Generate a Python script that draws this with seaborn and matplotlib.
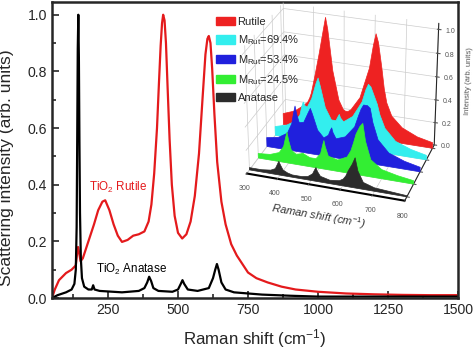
import numpy as np
import pandas as pd
import matplotlib
matplotlib.use("Agg")
import matplotlib.pyplot as plt
import seaborn as sns
from matplotlib import font_manager
from matplotlib.collections import PolyCollection
from matplotlib.patches import Patch
from matplotlib.ticker import MultipleLocator

# ---------------- main spectra ----------------
rutile_x = [50, 60, 75, 100, 120, 135, 140, 143, 147, 152, 160, 180, 200, 215, 230, 240,
            255, 270, 285, 300, 320, 340, 360, 380, 395, 405, 415, 425, 432, 438, 443, 447,
            452, 457, 463, 470, 478, 488, 500, 515, 530, 545, 560, 575, 588, 598, 605, 610,
            616, 622, 630, 640, 655, 670, 690, 710, 730, 750, 780, 820, 870, 920, 1000,
            1100, 1200, 1300, 1400, 1500]
rutile_y = [0.0, 0.03, 0.063, 0.088, 0.10, 0.115, 0.16, 0.18, 0.16, 0.13, 0.14, 0.20, 0.26, 0.31, 0.34, 0.345,
            0.31, 0.26, 0.22, 0.198, 0.205, 0.22, 0.225, 0.235, 0.27, 0.33, 0.44, 0.60, 0.76, 0.89, 0.97, 1.0,
            0.98, 0.90, 0.74, 0.56, 0.40, 0.29, 0.23, 0.21, 0.225, 0.27, 0.36, 0.51, 0.71, 0.86, 0.915, 0.925,
            0.90, 0.81, 0.65, 0.48, 0.34, 0.26, 0.19, 0.15, 0.12, 0.09, 0.07, 0.055, 0.04, 0.03, 0.022,
            0.016, 0.013, 0.011, 0.01, 0.01]

anatase_x = [50, 70, 100, 120, 130, 135, 138, 140, 142, 144, 146, 148, 150, 153, 157, 165, 180,
             192, 197, 202, 220, 300, 360, 380, 390, 397, 404, 412, 430, 480, 500, 510, 516, 522,
             535, 570, 610, 625, 633, 639, 645, 655, 670, 700, 800, 900, 1000, 1500]
anatase_y = [0.0, 0.01, 0.02, 0.03, 0.05, 0.10, 0.25, 0.55, 0.88, 1.0, 0.85, 0.55, 0.30, 0.14, 0.07, 0.04, 0.03,
             0.03, 0.045, 0.03, 0.025, 0.02, 0.025, 0.035, 0.055, 0.075, 0.06, 0.035, 0.025, 0.022, 0.03, 0.05, 0.063, 0.05,
             0.03, 0.025, 0.035, 0.07, 0.10, 0.12, 0.10, 0.055, 0.03, 0.02, 0.012, 0.008, 0.005, 0.005]

x_ticks = [250, 500, 750, 1000, 1250, 1500]
y_ticks = [0.0, 0.2, 0.4, 0.6, 0.8, 1.0]

# ---------------- inset waterfall spectra ----------------
inset_x = [300, 340, 370, 385, 392, 397, 402, 410, 425, 440, 447, 454, 470, 490, 505, 512,
           516, 520, 530, 560, 590, 602, 610, 618, 630, 639, 648, 665, 700, 750, 800]
inset_anatase = [0.02, 0.02, 0.03, 0.05, 0.09, 0.12, 0.09, 0.05, 0.03, 0.02, 0.02, 0.02, 0.02, 0.03, 0.06, 0.10,
                 0.12, 0.09, 0.05, 0.03, 0.04, 0.06, 0.09, 0.14, 0.20, 0.26, 0.15, 0.06, 0.03, 0.02, 0.01]
inset_m245 = [0.04, 0.05, 0.08, 0.14, 0.22, 0.27, 0.20, 0.12, 0.09, 0.10, 0.11, 0.10, 0.08, 0.08, 0.13, 0.21,
              0.25, 0.20, 0.12, 0.10, 0.14, 0.20, 0.27, 0.35, 0.42, 0.45, 0.30, 0.15, 0.08, 0.05, 0.03]
inset_m534 = [0.08, 0.10, 0.15, 0.24, 0.34, 0.40, 0.33, 0.26, 0.27, 0.36, 0.40, 0.35, 0.22, 0.16, 0.19, 0.24,
              0.26, 0.22, 0.17, 0.20, 0.30, 0.40, 0.46, 0.50, 0.50, 0.48, 0.36, 0.22, 0.12, 0.07, 0.04]
inset_m694 = [0.08, 0.11, 0.16, 0.22, 0.30, 0.34, 0.31, 0.30, 0.38, 0.52, 0.57, 0.50, 0.32, 0.22, 0.22, 0.26,
              0.28, 0.25, 0.22, 0.28, 0.42, 0.53, 0.58, 0.56, 0.48, 0.42, 0.33, 0.22, 0.12, 0.07, 0.04]
inset_rutile = [0.10, 0.14, 0.20, 0.24, 0.28, 0.32, 0.38, 0.48, 0.68, 0.90, 1.0, 0.90, 0.55, 0.30, 0.22, 0.21,
                0.21, 0.21, 0.23, 0.35, 0.62, 0.82, 0.92, 0.85, 0.64, 0.46, 0.34, 0.23, 0.14, 0.08, 0.05]
inset_series = [inset_anatase, inset_m245, inset_m534, inset_m694, inset_rutile]
inset_labels = ["Anatase", "M$_{\\rm Rut}$=24.5%", "M$_{\\rm Rut}$=53.4%", "M$_{\\rm Rut}$=69.4%", "Rutile"]
inset_colors = ["#2b2b2b", "#33ee33", "#2020dd", "#33eeee", "#ee2222"]
inset_xticks = [300, 400, 500, 600, 700, 800]
inset_zticks = [0.0, 0.2, 0.4, 0.6, 0.8, 1.0]

# ---------------- style ----------------
sns.set_style("ticks")
available = {f.name for f in font_manager.fontManager.ttflist}
narrow = "Liberation Sans Narrow" in available
base_font = "Liberation Sans Narrow" if narrow else "Liberation Sans"
k = 1.0 if narrow else 0.84
plt.rcParams['font.family'] = [base_font, 'Liberation Sans', 'DejaVu Sans']
plt.rcParams['mathtext.fontset'] = 'custom'
plt.rcParams['mathtext.rm'] = base_font
plt.rcParams['mathtext.it'] = base_font + ':italic'
plt.rcParams['mathtext.bf'] = base_font + ':bold'

fig = plt.figure(figsize=(4.74, 3.51), dpi=100)
ax = fig.add_axes([52/474, 1-298/351, (458-52)/474, (298-2)/351])

df_r = pd.DataFrame({"x": rutile_x, "y": rutile_y})
df_a = pd.DataFrame({"x": anatase_x, "y": anatase_y})
sns.lineplot(data=df_r, x="x", y="y", color="#e41a1c", lw=1.6, estimator=None, ax=ax)
sns.lineplot(data=df_a, x="x", y="y", color="black", lw=1.6, estimator=None, ax=ax)

ax.set_xlim(50, 1500)
ax.set_ylim(0, 1.045)
ax.set_xticks(x_ticks)
ax.set_yticks(y_ticks)
ax.set_yticklabels([f"{v:.1f}" for v in y_ticks])
ax.xaxis.set_minor_locator(MultipleLocator(125))
ax.yaxis.set_minor_locator(MultipleLocator(0.1))
ax.tick_params(which="both", direction="in", width=1.2, labelsize=12 * k)
ax.tick_params(which="major", length=5)
ax.tick_params(which="minor", length=3)
for s in ax.spines.values():
    s.set_visible(True)
    s.set_linewidth(1.8)
ax.set_xlabel("Raman shift (cm$^{-1}$)", fontsize=14.5 * k)
ax.xaxis.set_label_coords(0.5, -0.098)
ax.set_ylabel("Scattering intensity (arb. units)", fontsize=15 * k)
ax.yaxis.set_label_coords(-0.093, 0.44)

ax.text(182, 0.39, "TiO$_2$ Rutile", color="#e41a1c", fontsize=10 * k, va="center")
ax.text(207, 0.10, "TiO$_2$ Anatase", color="black", fontsize=10 * k, va="center")

# ---------------- inset 3D waterfall ----------------
ax3 = fig.add_axes([0.415, 0.359, 0.60, 0.70], projection="3d")
ax3.set_facecolor("none")
verts = []
for z in inset_series:
    verts.append([(inset_x[0], 0.0)] + list(zip(inset_x, z)) + [(inset_x[-1], 0.0)])
poly = PolyCollection(verts, facecolors=inset_colors, edgecolors=inset_colors, linewidths=0.5)
ax3.add_collection3d(poly, zs=list(range(len(inset_series))), zdir="y")
ax3.set_xlim(300, 800)
ax3.set_ylim(-0.3, 4.3)
ax3.set_zlim(0, 1.05)
ax3.set_xticks(inset_xticks)
ax3.set_zticks(inset_zticks)
ax3.set_zticklabels([f"{v:.1f}" for v in inset_zticks])
ax3.set_yticks(range(5))
ax3.set_yticklabels([])
ax3.set_box_aspect((1.3, 0.9, 1.1), zoom=0.965)
ax3.view_init(elev=28, azim=-72)
for axis in (ax3.xaxis, ax3.yaxis, ax3.zaxis):
    axis.set_pane_color((1, 1, 1, 0))
    axis._axinfo["grid"]["color"] = "#cccccc"
    axis._axinfo["grid"]["linewidth"] = 0.5
ax3.xaxis.line.set_color("black")
ax3.xaxis.line.set_linewidth(1.5)
ax3.tick_params(axis="both", labelsize=5, colors="#555555", pad=-2)
ax3.set_xlabel("Raman shift (cm$^{-1}$)", fontsize=8, fontstyle="italic", color="#333333", labelpad=-6)
ax3.set_zlabel("Intensity (arb. units)", fontsize=5.5, color="#555555", labelpad=-5)
ax3.zaxis.set_ticks_position("upper")
ax3.zaxis.set_label_position("upper")

handles = [Patch(facecolor=c, edgecolor=c) for c in inset_colors[::-1]]
fig.legend(handles, inset_labels[::-1], loc="upper left", bbox_to_anchor=(216/474, 1-17/351),
           frameon=False, fontsize=9.5 * k, handlelength=1.7, handleheight=0.8, labelspacing=0.55,
           handletextpad=0.25, borderaxespad=0, borderpad=0)

fig.savefig("out.png", dpi=100)
